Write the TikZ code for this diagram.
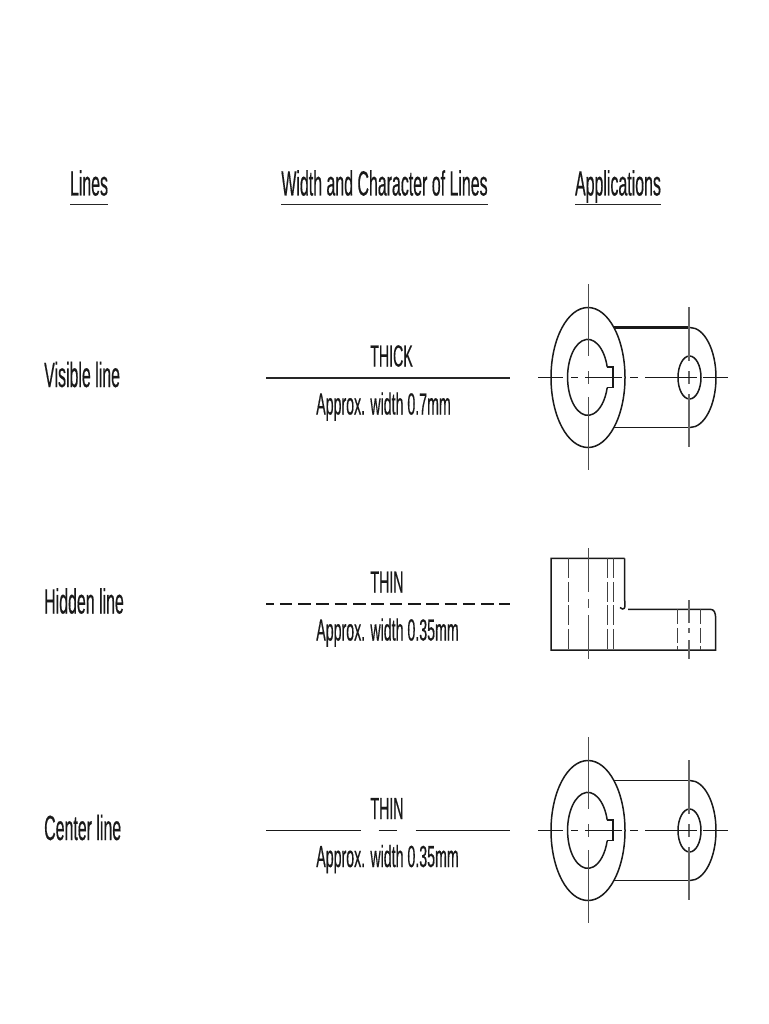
\documentclass[tikz,border=0pt]{standalone}
\usepackage{fontspec}
\setmainfont{Liberation Sans}
\newfontfamily\headfont[FakeStretch=0.455,FakeBold=0.35]{Liberation Sans}
\newfontfamily\midfont[FakeStretch=0.465,FakeBold=0.35]{Liberation Sans}
\tikzset{
  x=1pt,y=-1pt,
  lbl/.style={inner sep=0pt,anchor=base,black!90,font=\headfont\fontsize{35}{37}\selectfont},
  midlbl/.style={lbl,font=\midfont\fontsize{30.5}{32}\selectfont},
  rowlbl/.style={lbl,anchor=base west},
  rule/.style={line width=1.2pt,black!85},
  sample/.style={line width=1.6pt,black!85},
  thin sample/.style={line width=1.1pt,black!90},
  outline/.style={line width=1.5pt,black!90},
  hid/.style={line width=1pt,black!75,dash pattern=on 20pt off 3.5pt},
  cl/.style={line width=1pt,black!70},
  clh/.style={line width=1.4pt,black!90},
  pics/part/.style={code={
    \draw[outline] (588,377.5) ellipse [x radius=37,y radius=70];
    \draw[outline] (607.2,367) arc [start angle=-15.8,end angle=-344.2,x radius=20.2,y radius=38]; 
    \draw[line width=1.8pt,black!90] (607.2,367) -- (613,367) -- (613,387.5) -- (607.2,387.5);
    \draw[outline,line width=#1] (614,327.5) -- (690,327.5);
    \draw[outline] (614,427.5) -- (690,427.5);
    \draw[outline] (690,327.5) arc [start angle=-90,end angle=90,x radius=26,y radius=50];
    \draw[outline] (689.5,377.5) ellipse [x radius=11.5,y radius=21.5];
    \draw[cl] (588,284) -- (588,356) (588,371) -- (588,384) (588,397) -- (588,470);
    \draw[cl,line width=1.3pt,black!60] (689,307) -- (689,361) (689,371) -- (689,384) (689,394) -- (689,447);
    \draw[clh] (538,377.5) -- (563,377.5) (571,377.5) -- (578,377.5) (585,377.5) -- (622,377.5)
      (630,377.5) -- (637.5,377.5) (645,377.5) -- (697,377.5) (703,377.5) -- (728,377.5);
  }}
}
\begin{document}
\begin{tikzpicture}
\useasboundingbox (0,0) rectangle (768,1024);
% headings
\node[lbl] (h1) at (89,195.5) {Lines};
\node[lbl] (h2) at (384.5,195.5) {Width and Character of Lines};
\node[lbl] (h3) at (618,195.5) {Applications};
\draw[rule] (70,204.5) -- (108,204.5) (281,204.5) -- (488,204.5) (575,204.5) -- (661,204.5);
% rows
\node[rowlbl] (r1) at (44,387) {Visible line};
\node[rowlbl] (r2) at (44,613.5) {Hidden line};
\node[rowlbl] (r3) at (44,840) {Center line};
\node[midlbl] (t1) at (391.5,366.5) {THICK};
\node[midlbl] (w1) at (383.5,414.5) {Approx. width 0.7mm};
\node[midlbl] (t2) at (387,592.5) {THIN};
\node[midlbl] (w2) at (387.5,640.5) {Approx. width 0.35mm};
\node[midlbl] (t3) at (387,819) {THIN};
\node[midlbl] (w3) at (387.5,867) {Approx. width 0.35mm};
% samples
\draw[sample] (266,378) -- (510,378);
\draw[thin sample,dash pattern=on 12.6pt off 5.7pt,dash phase=4.5pt] (266,604) -- (510,604);
\draw[thin sample] (266,830.5) -- (361,830.5) (378.5,830.5) -- (397,830.5) (415.5,830.5) -- (510,830.5);
% applications
\pic at (0,0) {part=2.2pt};
\pic at (0,453) {part=1.5pt};
% middle view
\draw[outline] (624.7,558.3) -- (551,558.3) -- (551,650) -- (715.7,650) -- (715.7,619)
  .. controls (715.7,612) and (714,609.3) .. (710,609.3) -- (628,609.3);
\draw[outline] (624.7,558.3) -- (624.7,600) .. controls (624.7,605) and (626,609) .. (622.5,609) .. controls (621.5,609) and (620.5,608.5) .. (620,607.5);
\draw[hid] (568.3,558.3) -- (568.3,650);
\draw[hid] (607.7,558.3) -- (607.7,650);
\draw[hid] (613.3,558.3) -- (613.3,650);
\draw[hid,dash pattern=on 15pt off 3.5pt] (677.7,609.3) -- (677.7,650);
\draw[hid,dash pattern=on 15pt off 3.5pt] (700.3,609.3) -- (700.3,650);
\draw[cl] (588.3,548) -- (588.3,592) (588.3,599) -- (588.3,608) (588.3,615) -- (588.3,659);
\draw[cl,line width=1.3pt,black!60] (689,600) -- (689,623) (689,628) -- (689,633) (689,640) -- (689,659);
\end{tikzpicture}
\end{document}
